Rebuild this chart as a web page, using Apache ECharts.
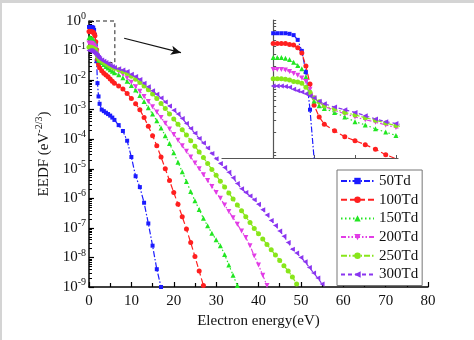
<!DOCTYPE html>
<html><head><meta charset="utf-8">
<script src="https://cdn.jsdelivr.net/npm/echarts@6/dist/echarts.min.js"></script>
<style>html,body{margin:0;padding:0;background:#fff;}#c{width:474px;height:340px;}</style>
</head><body><div id="c"></div>
<script>
// Electron energy (eV) sample points shared by all series
const energy = [0,0.2,0.4,0.6,0.8,1.0,1.2,1.4,1.6,1.8,2.0,2.25,2.5,3,3.5,4,4.5,5,5.5,6,
  7,8,9,10,11,12,13,14,15,16,17,18,19,20,21,22,23,24,25,26,27,28,29,30,
  31,32,33,34,35,36,37,38,39,40,41,42,43,44,45,46,47,48,49,50,51,52,53,54,55];

const seriesNames = ['50Td','100Td','150Td','200Td','250Td','300Td'];

// EEDF (eV^-3/2) values
const eedf50Td = [0.63,0.63,0.63,0.63,0.617,0.59,0.50,0.34,0.162,0.0437,7.9e-3,2.8e-3,1.58e-3,1.0e-3,8.9e-4,7.9e-4,7.1e-4,6.3e-4,5.4e-4,4.5e-4,
  3.0e-4,1.9e-4,8.9e-5,2.5e-5,5.6e-6,2.4e-6,7.1e-7,1.41e-7,2.5e-8,4.0e-9,1.0e-9];
const eedf100Td = [0.44,0.44,0.44,0.44,0.427,0.417,0.38,0.316,0.2,0.107,0.051,0.0339,0.0263,0.0209,0.017,0.0148,0.0129,0.011,9.1e-3,7.9e-3,
  6.3e-3,5.0e-3,3.5e-3,2.4e-3,1.58e-3,1.0e-3,5.4e-4,2.75e-4,1.32e-4,6.0e-5,2.5e-5,1.0e-5,4.0e-6,1.58e-6,6.3e-7,2.4e-7,9.1e-8,3.2e-8,1.07e-8,3.5e-9,1.12e-9];
const eedf150Td = [0.27,0.27,0.27,0.263,0.251,0.229,0.204,0.182,0.138,0.087,0.059,0.05,0.0457,0.0398,0.0339,0.0288,0.0257,0.0224,0.02,0.0178,
  0.0151,0.012,9.1e-3,6.6e-3,4.6e-3,3.0e-3,1.9e-3,1.17e-3,7.1e-4,4.2e-4,2.4e-4,1.32e-4,7.1e-5,3.5e-5,1.66e-5,7.9e-6,3.7e-6,1.7e-6,8.3e-7,4.2e-7,
  2.1e-7,1.17e-7,6.6e-8,4.0e-8,2.5e-8,1.26e-8,5.6e-9,2.5e-9,1.12e-9];
const eedf200Td = [0.178,0.178,0.178,0.174,0.166,0.155,0.145,0.132,0.117,0.089,0.066,0.056,0.049,0.0427,0.038,0.0339,0.0309,0.0282,0.0257,0.0234,
  0.02,0.0158,0.0117,8.5e-3,6.0e-3,4.2e-3,2.8e-3,1.9e-3,1.26e-3,8.3e-4,5.4e-4,3.5e-4,2.2e-4,1.45e-4,9.3e-5,6.0e-5,3.9e-5,2.5e-5,1.58e-5,1.0e-5,
  6.3e-6,4.0e-6,2.5e-6,1.58e-6,1.0e-6,6.0e-7,3.6e-7,2.2e-7,1.32e-7,7.9e-8,4.7e-8,2.5e-8,1.12e-8,5.6e-9,2.5e-9,1.12e-9];
const eedf250Td = [0.129,0.129,0.129,0.126,0.123,0.117,0.115,0.11,0.0955,0.0794,0.066,0.0575,0.05,0.0447,0.0398,0.0363,0.0331,0.0302,0.0275,0.0251,
  0.0224,0.0195,0.0166,0.0135,0.0107,8.3e-3,6.3e-3,4.7e-3,3.4e-3,2.4e-3,1.62e-3,1.1e-3,7.2e-4,4.8e-4,3.2e-4,2.1e-4,1.38e-4,8.9e-5,5.8e-5,3.7e-5,
  2.4e-5,1.51e-5,9.5e-6,6.0e-6,3.8e-6,2.4e-6,1.51e-6,9.5e-7,6.0e-7,3.8e-7,2.4e-7,1.51e-7,9.5e-8,6.3e-8,4.2e-8,2.75e-8,1.82e-8,1.2e-8,7.9e-9,5.2e-9,
  3.5e-9,2.2e-9,1.26e-9];
const eedf300Td = [0.1,0.1,0.1,0.098,0.0955,0.089,0.085,0.081,0.076,0.0708,0.066,0.0589,0.0537,0.0479,0.0437,0.0398,0.0355,0.0316,0.0288,0.0269,
  0.024,0.0219,0.0195,0.0158,0.0132,0.0105,7.9e-3,6.0e-3,4.4e-3,3.3e-3,2.5e-3,1.82e-3,1.32e-3,9.5e-4,7.2e-4,5.0e-4,3.4e-4,2.3e-4,1.58e-4,1.05e-4,
  7.4e-5,5.0e-5,3.3e-5,2.2e-5,1.51e-5,1.1e-5,7.6e-6,5.0e-6,3.2e-6,2.1e-6,1.58e-6,1.2e-6,8.9e-7,6.3e-7,4.1e-7,2.75e-7,1.78e-7,1.2e-7,7.9e-8,5.2e-8,
  3.2e-8,1.9e-8,1.41e-8,1.0e-8,7.1e-9,4.6e-9,3.0e-9,2.0e-9,1.26e-9];

const xTickLabels = [0,10,20,30,40,50,60,70,80];
const insetXTicks = [0,2,4,6];

const allValues = [eedf50Td,eedf100Td,eedf150Td,eedf200Td,eedf250Td,eedf300Td];

const styles = [
  {color:'#1b1bff', symbol:'rect', size:4, rotate:0, dash:[6,2,1.5,2]},
  {color:'#ff1f1f', symbol:'circle', size:5, rotate:0, dash:[6,3]},
  {color:'#22e622', symbol:'triangle', size:5, rotate:0, dash:[1.5,2.5]},
  {color:'#e23ce6', symbol:'triangle', size:5, rotate:180, dash:[5,2,1.5,2,1.5,2]},
  {color:'#88e61a', symbol:'circle', size:5, rotate:0, dash:[6,2,1.5,2]},
  {color:'#8a35f0', symbol:'triangle', size:5, rotate:90, dash:[4,3]}
];

const FONT = '"Liberation Serif","Times New Roman",serif';

const minorTicks = [];
for (let d = -9; d <= -1; d++) for (let k = 2; k <= 9; k++) minorTicks.push(+(k * Math.pow(10, d)).toPrecision(3));
const decades = [];
for (let d = -9; d <= 0; d++) decades.push(+Math.pow(10, d).toPrecision(3));

function pairs(vals){ return vals.map((v,i)=>[energy[i], v]); }

const series = [];
allValues.forEach((vals, i) => {
  const s = styles[i];
  const base = {
    name: seriesNames[i], type: 'line', data: pairs(vals),
    symbol: s.symbol, symbolSize: s.size, symbolRotate: s.rotate,
    itemStyle: {color: s.color},
    lineStyle: {color: s.color, width: 1.2, type: s.dash},
    animation: false, z: 3
  };
  const main = Object.assign({}, base, {xAxisIndex:0, yAxisIndex:0, clip: false});
  if (i === 0) {
    main.markArea = {
      silent: true,
      itemStyle: {color: 'rgba(0,0,0,0)', borderColor: '#222', borderWidth: 1, borderType: [4,3]},
      data: [[{coord: [-1.4, 1.32]}, {coord: [6.1, 0.039]}]]
    };
    main.markLine = {
      silent: true, symbol: ['none','arrow'], symbolSize: [7,10],
      lineStyle: {color:'#111', width:1.2, type:'solid'},
      label: {show:false},
      data: [[{coord:[8.3,0.26]},{coord:[21.7,0.085]}]]
    };
  }
  series.push(main);
  series.push(Object.assign({}, base, {xAxisIndex:1, yAxisIndex:2, clip: true}));
});

const chart = echarts.init(document.getElementById('c'), null, {renderer:'canvas'});
chart.setOption({
  animation: false,
  backgroundColor: '#fff',
  textStyle: {fontFamily: FONT},
  graphic: [
    {type:'rect', shape:{x:0,y:0,width:474,height:3}, style:{fill:'#d4d4d4'}, silent:true},
    {type:'rect', shape:{x:0,y:0,width:2,height:340}, style:{fill:'#d4d4d4'}, silent:true}
  ],
  grid: [
    {left:89, top:21, right:46, bottom:53},
    {left:222, top:20, width:176, height:138}
  ],
  xAxis: [
    {gridIndex:0, type:'value', min:0, max:80, interval:10,
     axisLine:{lineStyle:{color:'#000', width:1.5}},
     axisTick:{inside:true, length:5, lineStyle:{color:'#000', width:1.2}},
     minorTick:{show:true, splitNumber:2, length:4, lineStyle:{color:'#000', width:1.2}},
     axisLabel:{fontSize:15, color:'#111', margin:7, fontFamily:FONT},
     splitLine:{show:false},
     name:'Electron energy(eV)', nameLocation:'middle', nameGap:14,
     nameTextStyle:{fontSize:15, color:'#111', fontFamily:FONT, verticalAlign:'top'}},
    {gridIndex:1, type:'value', min:-2.5, max:6.1,
     axisLine:{lineStyle:{color:'#555', width:1.2}},
     axisTick:{inside:true, length:3, customValues: insetXTicks, lineStyle:{color:'#555'}},
     axisLabel:{show:false}, splitLine:{show:false}}
  ],
  yAxis: [
    {gridIndex:0, type:'log', min:1e-9, max:1, interval:1, position:'left',
     axisLine:{show:true, lineStyle:{color:'#000', width:1.5}},
     axisTick:{show:true, inside:true, length:5, customValues: decades, lineStyle:{color:'#000', width:1.2}},
     axisLabel:{margin:3, customValues: decades, fontFamily:FONT,
       formatter: v => '{a|10}{b|' + Math.round(Math.log10(v)) + '}',
       rich:{a:{fontSize:15, color:'#111', fontFamily:FONT}, b:{fontSize:10, color:'#111', fontFamily:FONT, verticalAlign:'bottom', padding:[0,0,9,0]}}},
     splitLine:{show:false},
     name:'EEDF (eV{s|-2/3})', nameLocation:'middle', nameGap:33, nameRotate:90,
     nameTextStyle:{fontSize:15, color:'#111', fontFamily:FONT,
       rich:{s:{fontSize:10, color:'#111', fontFamily:FONT, verticalAlign:'bottom', padding:[0,0,9,0]}}}},
    {gridIndex:0, type:'log', min:1e-9, max:1, position:'left', offset:0,
     axisLine:{show:false}, axisLabel:{show:false}, splitLine:{show:false},
     axisTick:{show:true, inside:true, length:3, customValues: minorTicks, lineStyle:{color:'#000', width:1}}},
    {gridIndex:1, type:'log', min:0.0081, max:1, position:'left',
     axisLine:{show:true, lineStyle:{color:'#555', width:1.2}},
     axisTick:{show:true, inside:true, length:3, customValues: decades.concat(minorTicks), lineStyle:{color:'#555'}},
     axisLabel:{show:false}, splitLine:{show:false}}
  ],
  legend: {
    data: seriesNames, orient:'vertical', left:337, top:170,
    backgroundColor:'#fff', borderColor:'#777', borderWidth:1, borderRadius:0,
    padding:[3,4,3,3], itemWidth:33, itemHeight:8, itemGap:2.7,
    textStyle:{fontSize:15, color:'#111', fontFamily:FONT, lineHeight:16}
  },
  series: series
});
</script></body></html>
